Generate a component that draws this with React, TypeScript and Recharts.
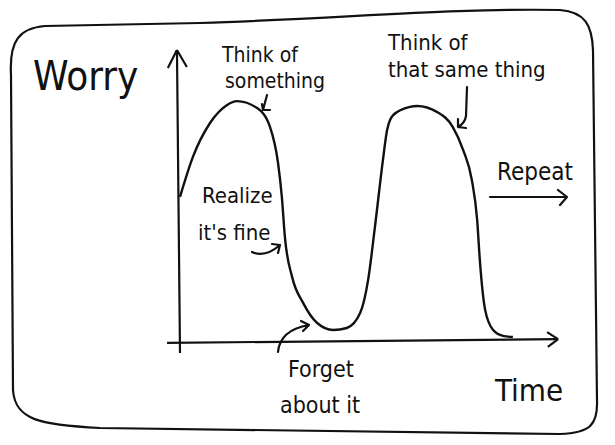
import React from 'react';
import { LineChart, Line, XAxis, YAxis, ReferenceLine, Customized } from 'recharts';

// time (0..100 along the x axis) vs worry (0..100 up the y axis)
const time = [0, 3.4, 7.9, 12.4, 15, 20.3, 23.7, 25.8, 26.8, 27.6, 29.5, 32.4, 36.1, 40.3, 43.9, 47.4, 49.5, 51.3, 53.4, 54.5, 56.1, 60.5, 62.4, 67.6, 71.8, 74.5, 76.8, 78.2, 78.9, 80.3, 82.4, 85, 87.6];
const worry = [49.7, 63.4, 75, 81.2, 82.5, 80.1, 73.6, 61.3, 49.7, 36, 22.3, 13.4, 6.5, 4.1, 4.8, 9.9, 21.2, 39.4, 62.3, 72.6, 77.7, 80.5, 80.8, 78.8, 73.6, 65.8, 55.5, 41.8, 28.1, 11, 4.1, 2.1, 1.7];

const axisTitles = ['Worry', 'Time'];
const notes = ['Think of', 'something', 'Realize', "it's fine", 'Forget', 'about it', 'Think of', 'that same thing', 'Repeat'];

const data = time.map((t, i) => ({ t, w: worry[i] }));

const INK = '#111';
const HAND = "'Liberation Sans Narrow', 'DejaVu Sans Condensed', 'Open Sans', sans-serif";

const Sketch = () => (
  <g fill="none" stroke={INK} strokeWidth={2.2} strokeLinecap="round" strokeLinejoin="round">
    {/* frame */}
    <path d="M 11,75 C 9,40 20,28 45,26 L 200,23 C 350,18 450,8 560,10 C 585,12 592,25 593,50 L 597,400 C 598,425 590,433 560,434 L 100,428 C 40,425 15,420 13,390 Z" />
    {/* something arrow */}
    <path d="M 267,95 L 263,110 M 263,110 L 270,110 M 263,110 L 262,104" />
    {/* same thing arrow */}
    <path d="M 467,87 L 466,116 Q 465,123 458,127 M 458,127 L 458,119 M 458,127 L 466,128" />
    {/* fine arrow */}
    <path d="M 252,252 Q 265,258 280,245 M 280,245 L 272,244 M 280,245 L 278,253" />
    {/* forget arrow */}
    <path d="M 278,352 Q 280,330 309,325 M 309,325 L 301,321 M 309,325 L 303,331" />
    {/* repeat arrow */}
    <path d="M 490,197 L 567,197 M 567,197 L 558,190 M 567,197 L 560,205" />
    <g stroke="none" fill={INK} fontFamily={HAND}>
      <text x={33} y={90} fontSize={40}>{axisTitles[0]}</text>
      <text x={495} y={401} fontSize={31}>{axisTitles[1]}</text>
      <text x={222} y={62} fontSize={21}>{notes[0]}</text>
      <text x={225} y={88} fontSize={21}>{notes[1]}</text>
      <text x={202} y={203} fontSize={22}>{notes[2]}</text>
      <text x={198} y={240} fontSize={22}>{notes[3]}</text>
      <text x={288} y={377} fontSize={23}>{notes[4]}</text>
      <text x={280} y={413} fontSize={23}>{notes[5]}</text>
      <text x={388} y={50} fontSize={22}>{notes[6]}</text>
      <text x={388} y={77} fontSize={22}>{notes[7]}</text>
      <text x={497} y={180} fontSize={24}>{notes[8]}</text>
    </g>
  </g>
);

export default function App() {
  const axis = { stroke: INK, strokeWidth: 2.2, ifOverflow: 'visible' as const };
  return (
    <div style={{ position: 'absolute', left: 0, top: 0, width: 615, height: 445, background: '#fff' }}>
      <LineChart width={615} height={445} data={data} margin={{ top: 50, right: 55, bottom: 103, left: 180 }}>
        <XAxis type="number" dataKey="t" domain={[0, 100]} hide />
        <YAxis type="number" domain={[0, 100]} hide />
        {/* axes drawn by hand */}
        <ReferenceLine segment={[{ x: -3.4, y: -0.3 }, { x: 99.5, y: 1 }]} {...axis} />
        <ReferenceLine segment={[{ x: 96.6, y: 3.4 }, { x: 99.5, y: 1 }]} {...axis} />
        <ReferenceLine segment={[{ x: 96.8, y: -1.7 }, { x: 99.5, y: 1 }]} {...axis} />
        <ReferenceLine segment={[{ x: -0.8, y: 100 }, { x: 0, y: -3.8 }]} {...axis} />
        <ReferenceLine segment={[{ x: -3.2, y: 93.8 }, { x: -0.8, y: 100 }]} {...axis} />
        <ReferenceLine segment={[{ x: 1.8, y: 94.2 }, { x: -0.8, y: 100 }]} {...axis} />
        <Line type="monotone" dataKey="w" stroke={INK} strokeWidth={2.4} dot={false} isAnimationActive={false} />
        <Customized component={<Sketch />} />
      </LineChart>
    </div>
  );
}
